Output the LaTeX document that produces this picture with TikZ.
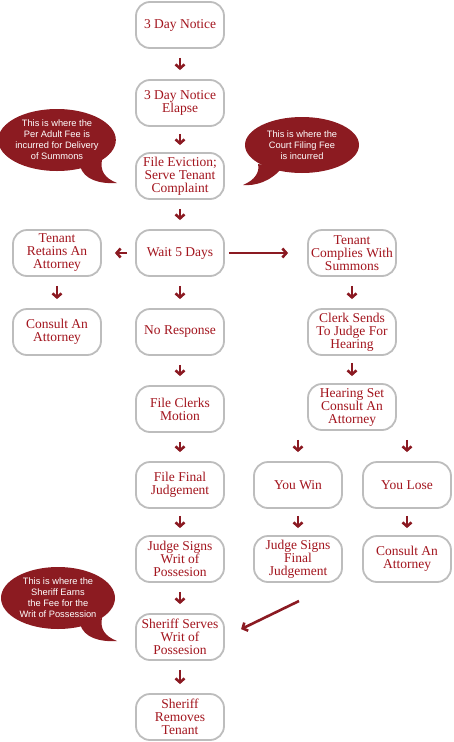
\documentclass[tikz,border=0pt]{standalone}
\usepackage{fontspec}
\setmainfont{Liberation Serif}
\newfontfamily\notefont{Liberation Sans}
\usetikzlibrary{arrows.meta,shapes.geometric}

\definecolor{stepred}{HTML}{A3151E}
\definecolor{arrowred}{HTML}{8B1A22}
\definecolor{notered}{HTML}{8C1B21}
\definecolor{stepline}{HTML}{BDBDBD}

\tikzset{
  stepbox/.style={rectangle, rounded corners=14pt, draw=stepline, line width=1.8pt,
    fill=white, minimum width=88pt, minimum height=46pt, inner sep=0pt,
    align=center, text=stepred, font=\fontsize{13.5}{13}\selectfont},
  arr/.style={draw=arrowred, line width=2.6pt, -{Straight Barb[length=4pt,width=9pt]}},
  down/.style={arr, shorten <=9pt, shorten >=9pt},
  shortdown/.style={arr, shorten <=7pt, shorten >=7pt},
  note/.style={ellipse, fill=notered, minimum width=114pt, minimum height=62pt,
    inner sep=0pt, align=center, text=white, font=\notefont\fontsize{9.3}{11}\selectfont},
}

\begin{document}
\begin{tikzpicture}[x=1pt,y=-1pt]
	\useasboundingbox (0,0) rectangle (453,742);

	% fee notes, tails first
	\fill[notered] (80,166) .. controls (84,180) and (100,184) .. (117,183) .. controls (104,178) and (100,170) .. (102,160) -- cycle;
	\fill[notered] (282,168) .. controls (270,182) and (255,186) .. (243,185) .. controls (255,180) and (260,172) .. (258,164) -- cycle;
	\fill[notered] (80,624) .. controls (84,638) and (100,642) .. (117,641) .. controls (104,636) and (100,628) .. (102,618) -- cycle;
	\node (feeA) at ( 57,140)	[note]	{This is where the\\Per Adult Fee is\\incurred for Delivery\\of Summons};
	\node (feeB) at (302,145)	[note, minimum height=56pt]	{This is where the\\Court Filing Fee\\is incurred};
	\node (feeC) at ( 58,598)	[note]	{This is where the\\Sheriff Earns\\the Fee for the\\Writ of Possession};

	% main column
	\node (notice)   at (180, 25)	[stepbox]	{3 Day Notice};
	\node (elapse)   at (180,103)	[stepbox]	{3 Day Notice\\Elapse};
	\node (evict)    at (180,176)	[stepbox]	{File Eviction;\\Serve Tenant\\Complaint};
	\node (wait)     at (180,253)	[stepbox]	{Wait 5 Days};
	\node (noresp)   at (180,332)	[stepbox]	{No Response};
	\node (motion)   at (180,409)	[stepbox]	{File Clerks\\Motion};
	\node (final)    at (180,485)	[stepbox]	{File Final\\Judgement};
	\node (writ)     at (180,559)	[stepbox]	{Judge Signs\\Writ of\\Possesion};
	\node (serve)    at (180,637)	[stepbox]	{Sheriff Serves\\Writ of\\Possesion};
	\node (remove)   at (180,717)	[stepbox]	{Sheriff\\Removes\\Tenant};

	% tenant answers
	\node (retain)   at ( 57,253)	[stepbox]	{Tenant\\Retains An\\Attorney};
	\node (consultL) at ( 57,332)	[stepbox]	{Consult An\\Attorney};
	\node (comply)   at (352,253)	[stepbox]	{Tenant\\Complies With\\Summons};
	\node (clerk)    at (352,332)	[stepbox]	{Clerk Sends\\To Judge For\\Hearing};
	\node (hearing)  at (352,407)	[stepbox]	{Hearing Set\\Consult An\\Attorney};
	\node (win)      at (298,485)	[stepbox]	{You Win};
	\node (lose)     at (407,485)	[stepbox]	{You Lose};
	\node (judgefin) at (298,559)	[stepbox]	{Judge Signs\\Final\\Judgement};
	\node (consultR) at (407,559)	[stepbox]	{Consult An\\Attorney};

	\draw[down] (notice) -- (elapse);
	\draw[shortdown] (elapse) -- (evict);
	\draw[down] (evict) -- (wait);
	\draw[down] (wait) -- (noresp);
	\draw[down] (noresp) -- (motion);
	\draw[down] (motion) -- (final);
	\draw[shortdown] (final) -- (writ);
	\draw[down] (writ) -- (serve);
	\draw[down] (serve) -- (remove);

	\draw[arr, shorten <=8pt, shorten >=13pt] (wait) -- (retain);
	\draw[arr, shorten <=4pt, shorten >=19pt] (wait) -- (comply);
	\draw[down] (retain) -- (consultL);
	\draw[down] (comply) -- (clerk);
	\draw[shortdown] (clerk) -- (hearing);
	\draw[down] (hearing.south -| win) -- (win);
	\draw[down] (hearing.south -| lose) -- (lose);
	\draw[shortdown] (win) -- (judgefin);
	\draw[shortdown] (lose) -- (consultR);

	\coordinate (winend) at (299,601);
	\draw[arr, shorten >=18pt] (winend) -- (serve.east);
\end{tikzpicture}
\end{document}
